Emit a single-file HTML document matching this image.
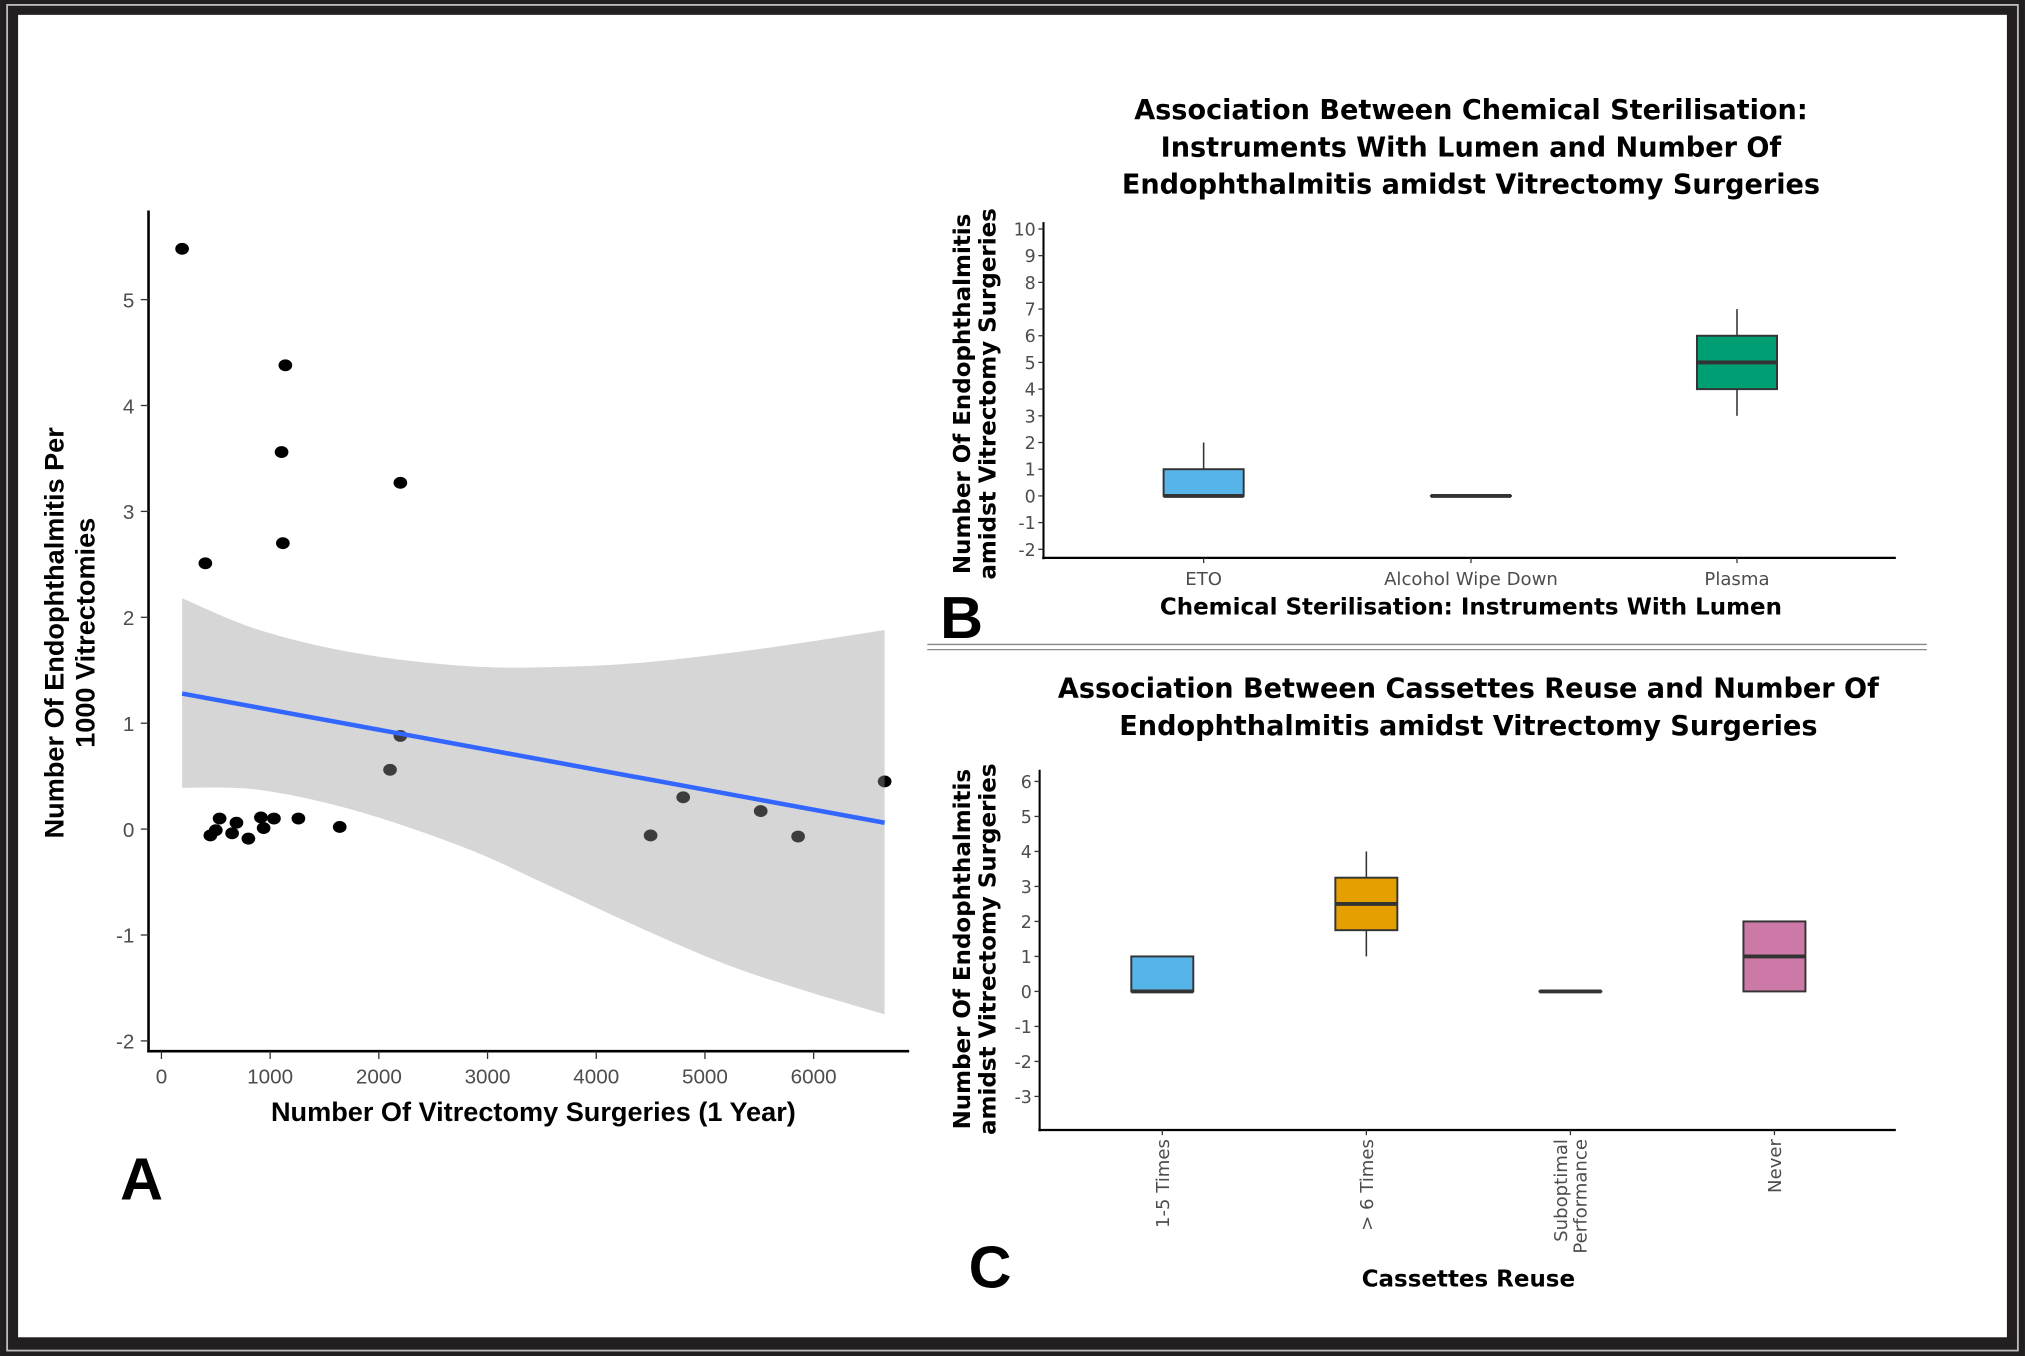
<!DOCTYPE html>
<html><head><meta charset="utf-8"><style>
html,body{margin:0;padding:0;background:#fff;}
svg{display:block;}
</style></head><body>
<svg id="fig" xmlns="http://www.w3.org/2000/svg" width="2025" height="1356" viewBox="0 0 1568 1050">
<rect x="0" y="0" width="1568" height="1050" fill="#231f20"/>
<rect x="5.5" y="3.8" width="1557" height="1042" fill="none" stroke="#bdbdbd" stroke-width="1.4"/>
<rect x="14" y="11.5" width="1540" height="1024" fill="#fff"/>
<g id="panelA"></g>
<g id="panelB"></g>
<g id="panelC"></g>
<line x1="718" y1="499" x2="1492" y2="499" stroke="#888" stroke-width="1"/>
<line x1="718" y1="503" x2="1492" y2="503" stroke="#888" stroke-width="1"/>
</svg>
<script>
// ---- Panel A data ----
const surgeriesX = [190,404,1140,1105,1117,2198,2198,2103,450,500,535,650,690,800,915,940,1035,1260,1640,4500,4800,5513,5857,6653];
const ratePer1000 = [5.48,2.51,4.38,3.56,2.70,3.27,0.88,0.56,-0.06,-0.01,0.10,-0.04,0.06,-0.09,0.11,0.01,0.10,0.10,0.02,-0.06,0.30,0.17,-0.07,0.45];
const fitX = [190, 6653];
const fitY = [1.28, 0.06];
const bandX = [190, 900, 1800, 2800, 3600, 4400, 5200, 5900, 6653];
const bandUpper = [2.18, 1.88, 1.66, 1.54, 1.53, 1.57, 1.66, 1.76, 1.88];
const bandLower = [0.39, 0.37, 0.17, -0.18, -0.55, -0.93, -1.28, -1.52, -1.75];
const aXTicks = [0,1000,2000,3000,4000,5000,6000];
const aYTicks = [-2,-1,0,1,2,3,4,5];
// ---- Panel B data ----
const bCategories = ["ETO","Alcohol Wipe Down","Plasma"];
const bMin = [0,0,3];
const bQ1 = [0,0,4];
const bMedian = [0,0,5];
const bQ3 = [1,0,6];
const bMax = [2,0,7];
const bColors = ["#56B4E9","#999999","#009E73"];
const bYTicks = [-2,-1,0,1,2,3,4,5,6,7,8,9,10];
// ---- Panel C data ----
const cCategories = [["1-5 Times"],["> 6 Times"],["Suboptimal","Performance"],["Never"]];
const cMin = [0,1,0,0];
const cQ1 = [0,1.75,0,0];
const cMedian = [0,2.5,0,1];
const cQ3 = [1,3.25,0,2];
const cMax = [1,4,0,2];
const cColors = ["#56B4E9","#E69F00","#999999","#CC79A7"];
const cYTicks = [-3,-2,-1,0,1,2,3,4,5,6];

const NS = "http://www.w3.org/2000/svg";
function mk(parent, tag, attrs, text){
  const e = document.createElementNS(NS, tag);
  for (const k in attrs) e.setAttribute(k, attrs[k]);
  if (text !== undefined) e.textContent = text;
  parent.appendChild(e);
  return e;
}
const SANS = '"Liberation Sans", Arial, sans-serif';
const DJ = '"DejaVu Sans", "Liberation Sans", sans-serif';

function smoothPath(pts, start){
  // Catmull-Rom to cubic bezier
  let d = (start ? 'M' : 'L') + pts[0][0] + ',' + pts[0][1];
  for (let i = 0; i < pts.length - 1; i++) {
    const p0 = pts[Math.max(0, i - 1)], p1 = pts[i], p2 = pts[i + 1], p3 = pts[Math.min(pts.length - 1, i + 2)];
    const c1x = p1[0] + (p2[0] - p0[0]) / 6, c1y = p1[1] + (p2[1] - p0[1]) / 6;
    const c2x = p2[0] - (p3[0] - p1[0]) / 6, c2y = p2[1] - (p3[1] - p1[1]) / 6;
    d += 'C' + c1x + ',' + c1y + ' ' + c2x + ',' + c2y + ' ' + p2[0] + ',' + p2[1];
  }
  return d;
}

// ===== Panel A =====
(function(){
  const g = document.getElementById('panelA');
  const xS = v => 125 + v * 0.08417;
  const yS = v => 642 - v * 82;
  for (let i = 0; i < surgeriesX.length; i++) {
    const c = mk(g, 'ellipse', {cx: xS(surgeriesX[i]), cy: yS(ratePer1000[i]), rx: 5.3, ry: 4.6, fill: '#000'});
    
    
  }
  const up = bandX.map((x, i) => [xS(x), yS(bandUpper[i])]);
  const lo = bandX.map((x, i) => [xS(x), yS(bandLower[i])]).reverse();
  const d = smoothPath(up, true) + smoothPath(lo, false) + 'Z';
  const band = mk(g, 'path', {d: d, fill: 'rgba(153,153,153,0.4)', stroke: 'none'});
  
  
  const fl = mk(g, 'line', {x1: xS(fitX[0]), y1: yS(fitY[0]), x2: xS(fitX[1]), y2: yS(fitY[1]), stroke: '#3366FF', 'stroke-width': 3.5});
  
  
  const ya = mk(g, 'line', {x1: 115, y1: 163, x2: 115, y2: 815, stroke: '#000', 'stroke-width': 2});
  
  
  const xa = mk(g, 'line', {x1: 114, y1: 814, x2: 704, y2: 814, stroke: '#000', 'stroke-width': 2});
  
  
  aYTicks.forEach(v => {
    const t = mk(g, 'line', {x1: 109, y1: yS(v), x2: 115, y2: yS(v), stroke: '#333', 'stroke-width': 1});
    
    
    const l = mk(g, 'text', {x: 104, y: yS(v) + 6, 'text-anchor': 'end', 'font-family': SANS, 'font-size': 16, fill: '#4d4d4d'}, String(v));
    
    
  });
  aXTicks.forEach(v => {
    const t = mk(g, 'line', {x1: xS(v), y1: 814, x2: xS(v), y2: 820, stroke: '#333', 'stroke-width': 1});
    
    
    const l = mk(g, 'text', {x: xS(v), y: 839, 'text-anchor': 'middle', 'font-family': SANS, 'font-size': 16, fill: '#4d4d4d'}, String(v));
    
    
  });
  const xt = mk(g, 'text', {x: 413, y: 868, 'text-anchor': 'middle', 'font-family': SANS, 'font-size': 21, 'font-weight': 'bold', fill: '#000'}, 'Number Of Vitrectomy Surgeries (1 Year)');
  
  
  const yt = mk(g, 'text', {transform: 'translate(49,490) rotate(-90)', 'text-anchor': 'middle', 'font-family': SANS, 'font-size': 21, 'font-weight': 'bold', fill: '#000'}, 'Number Of Endophthalmitis Per');
  
  
  const yt2 = mk(g, 'text', {transform: 'translate(73,490) rotate(-90)', 'text-anchor': 'middle', 'font-family': SANS, 'font-size': 21, 'font-weight': 'bold', fill: '#000'}, '1000 Vitrectomies');
  
  
  const A = mk(g, 'text', {x: 93, y: 929, 'font-family': SANS, 'font-size': 46, 'font-weight': 'bold', fill: '#000'}, 'A');
  
  
})();

function boxPanel(g, opt, cats, mins, q1s, meds, q3s, maxs, cols, ticks){
  const yS = v => opt.y0 - v * opt.pxPerUnit;
  for (let i = 0; i < cats.length; i++) {
    const cx = opt.catX[i], hw = opt.boxW / 2;
    const w1 = mk(g, 'line', {x1: cx, y1: yS(q3s[i]), x2: cx, y2: yS(maxs[i]), stroke: '#333', 'stroke-width': 1.2});
    
    
    const w2 = mk(g, 'line', {x1: cx, y1: yS(q1s[i]), x2: cx, y2: yS(mins[i]), stroke: '#333', 'stroke-width': 1.2});
    
    
    const b = mk(g, 'rect', {x: cx - hw, y: yS(q3s[i]), width: opt.boxW, height: Math.max(0.01, yS(q1s[i]) - yS(q3s[i])), fill: cols[i], stroke: '#333', 'stroke-width': 1.5});
    
    
    const m = mk(g, 'line', {x1: cx - hw, y1: yS(meds[i]), x2: cx + hw, y2: yS(meds[i]), stroke: '#333', 'stroke-width': 3});
    
    
  }
  const ya = mk(g, 'line', {x1: opt.ax, y1: opt.yTop, x2: opt.ax, y2: opt.ay + 1, stroke: '#000', 'stroke-width': 1.6});
  
  
  const xa = mk(g, 'line', {x1: opt.ax - 1, y1: opt.ay, x2: opt.xRight, y2: opt.ay, stroke: '#000', 'stroke-width': 1.8});
  
  
  ticks.forEach(v => {
    const t = mk(g, 'line', {x1: opt.ax - 4, y1: yS(v), x2: opt.ax, y2: yS(v), stroke: '#333', 'stroke-width': 1});
    
    
    const l = mk(g, 'text', {x: opt.ax - 6, y: yS(v) + 5, 'text-anchor': 'end', 'font-family': DJ, 'font-size': 13.5, fill: '#4d4d4d'}, String(v));
    
    
  });
  cats.forEach((c, i) => {
    const t = mk(g, 'line', {x1: opt.catX[i], y1: opt.ay, x2: opt.catX[i], y2: opt.ay + 4, stroke: '#333', 'stroke-width': 1});
    
    
  });
}

// ===== Panel B =====
(function(){
  const g = document.getElementById('panelB');
  const opt = {y0: 384, pxPerUnit: 20.67, ax: 808, ay: 432, yTop: 172, xRight: 1468, catX: [932,1139,1345], boxW: 62};
  boxPanel(g, opt, bCategories, bMin, bQ1, bMedian, bQ3, bMax, bColors, bYTicks);
  bCategories.forEach((c, i) => {
    const l = mk(g, 'text', {x: opt.catX[i], y: 453, 'text-anchor': 'middle', 'font-family': DJ, 'font-size': 14, fill: '#4d4d4d'}, c);
    
    
  });
  ['Association Between Chemical Sterilisation:', 'Instruments With Lumen and Number Of', 'Endophthalmitis amidst Vitrectomy Surgeries'].forEach((s, i) => {
    const t = mk(g, 'text', {x: 1139, y: 92 + i * 29, 'text-anchor': 'middle', 'font-family': DJ, 'font-size': 21, 'font-weight': 'bold', fill: '#000'}, s);
    
    
  });
  const xt = mk(g, 'text', {x: 1139, y: 476, 'text-anchor': 'middle', 'font-family': DJ, 'font-size': 17.8, 'font-weight': 'bold', fill: '#000'}, 'Chemical Sterilisation: Instruments With Lumen');
  
  
  const y1 = mk(g, 'text', {transform: 'translate(751,305) rotate(-90)', 'text-anchor': 'middle', 'font-family': DJ, 'font-size': 17.8, 'font-weight': 'bold', fill: '#000'}, 'Number Of Endophthalmitis');
  
  
  const y2 = mk(g, 'text', {transform: 'translate(771,305) rotate(-90)', 'text-anchor': 'middle', 'font-family': DJ, 'font-size': 17.8, 'font-weight': 'bold', fill: '#000'}, 'amidst Vitrectomy Surgeries');
  
  
  const B = mk(g, 'text', {x: 728, y: 494, 'font-family': SANS, 'font-size': 46, 'font-weight': 'bold', fill: '#000'}, 'B');
  
  
})();

// ===== Panel C =====
(function(){
  const g = document.getElementById('panelC');
  const opt = {y0: 767.7, pxPerUnit: 27.1, ax: 805, ay: 875, yTop: 596, xRight: 1468, catX: [900,1058,1216,1374], boxW: 48};
  boxPanel(g, opt, cCategories, cMin, cQ1, cMedian, cQ3, cMax, cColors, cYTicks);
  cCategories.forEach((lines, i) => {
    lines.forEach((s, j) => {
      const off = (j - (lines.length - 1) / 2) * 15 + 5;
      const l = mk(g, 'text', {transform: 'translate(' + (opt.catX[i] + off) + ',882) rotate(-90)', 'text-anchor': 'end', 'font-family': DJ, 'font-size': 14, fill: '#4d4d4d'}, s);
      
      
    });
  });
  ['Association Between Cassettes Reuse and Number Of', 'Endophthalmitis amidst Vitrectomy Surgeries'].forEach((s, i) => {
    const t = mk(g, 'text', {x: 1137, y: 540 + i * 29, 'text-anchor': 'middle', 'font-family': DJ, 'font-size': 21, 'font-weight': 'bold', fill: '#000'}, s);
    
    
  });
  const xt = mk(g, 'text', {x: 1137, y: 996, 'text-anchor': 'middle', 'font-family': DJ, 'font-size': 17.8, 'font-weight': 'bold', fill: '#000'}, 'Cassettes Reuse');
  
  
  const y1 = mk(g, 'text', {transform: 'translate(751,735) rotate(-90)', 'text-anchor': 'middle', 'font-family': DJ, 'font-size': 17.8, 'font-weight': 'bold', fill: '#000'}, 'Number Of Endophthalmitis');
  
  
  const y2 = mk(g, 'text', {transform: 'translate(771,735) rotate(-90)', 'text-anchor': 'middle', 'font-family': DJ, 'font-size': 17.8, 'font-weight': 'bold', fill: '#000'}, 'amidst Vitrectomy Surgeries');
  
  
  const C = mk(g, 'text', {x: 750, y: 997, 'font-family': SANS, 'font-size': 46, 'font-weight': 'bold', fill: '#000'}, 'C');
  
  
})();
</script>
</body></html>
